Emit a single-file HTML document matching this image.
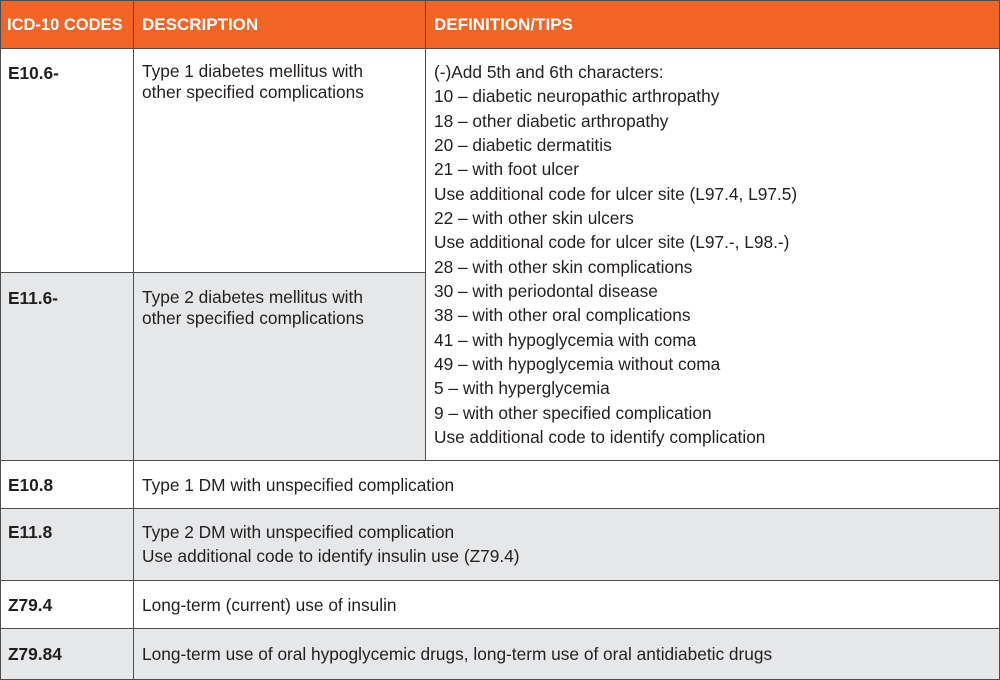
<!DOCTYPE html>
<html><head><meta charset="utf-8"><style>
body{margin:0;width:1000px;height:680px;overflow:hidden;background:#fff;font-family:"Liberation Sans",sans-serif;}
.c{position:absolute;box-sizing:border-box;border:1px solid #4d4d4d;}
.t{position:absolute;font-size:17.3px;color:#231f20;white-space:nowrap;line-height:24.33px;}
.h{position:absolute;font-size:17px;color:#fff;font-weight:bold;white-space:nowrap;top:15px;}
.b{font-weight:bold;}
.g{background:#e6e7e8;}
</style></head><body>
<div>
<div class="c" style="left:0;top:0;width:1000px;height:49px;background:#f26524;"></div>
<div class="c" style="left:133px;top:0;width:293px;height:49px;border-top:none;border-bottom:none;"></div>
<div class="h" style="left:7px;font-size:16.5px;top:16px">ICD-10 CODES</div>
<div class="h" style="left:142px">DESCRIPTION</div>
<div class="h" style="left:434px">DEFINITION/TIPS</div>

<div class="c" style="left:0;top:48px;width:134px;height:225px"></div>
<div class="c" style="left:133px;top:48px;width:293px;height:225px"></div>
<div class="c g" style="left:0;top:272px;width:134px;height:189px"></div>
<div class="c g" style="left:133px;top:272px;width:293px;height:189px"></div>
<div class="c" style="left:425px;top:48px;width:575px;height:413px"></div>
<div class="c" style="left:0;top:460px;width:134px;height:49px"></div>
<div class="c" style="left:133px;top:460px;width:867px;height:49px"></div>
<div class="c g" style="left:0;top:508px;width:134px;height:73px"></div>
<div class="c g" style="left:133px;top:508px;width:867px;height:73px"></div>
<div class="c" style="left:0;top:580px;width:134px;height:49px"></div>
<div class="c" style="left:133px;top:580px;width:867px;height:49px"></div>
<div class="c g" style="left:0;top:628px;width:134px;height:52px"></div>
<div class="c g" style="left:133px;top:628px;width:867px;height:52px"></div>

<div class="t b" style="left:8px;top:61px">E10.6-</div>
<div class="t" style="left:142px;top:61px;line-height:21px">Type 1 diabetes mellitus with<br>other specified complications</div>
<div class="t b" style="left:8px;top:286px">E11.6-</div>
<div class="t" style="left:142px;top:287px;line-height:21px">Type 2 diabetes mellitus with<br>other specified complications</div>
<div class="t" style="left:434px;top:60px">(-)Add 5th and 6th characters:<br>10 – diabetic neuropathic arthropathy<br>18 – other diabetic arthropathy<br>20 – diabetic dermatitis<br>21 – with foot ulcer<br>Use additional code for ulcer site (L97.4, L97.5)<br>22 – with other skin ulcers<br>Use additional code for ulcer site (L97.-, L98.-)<br>28 – with other skin complications<br>30 – with periodontal disease<br>38 – with other oral complications<br>41 – with hypoglycemia with coma<br>49 – with hypoglycemia without coma<br>5 – with hyperglycemia<br>9 – with other specified complication<br>Use additional code to identify complication</div>
<div class="t b" style="left:8px;top:473px">E10.8</div>
<div class="t" style="left:142px;top:473px">Type 1 DM with unspecified complication</div>
<div class="t b" style="left:8px;top:520px">E11.8</div>
<div class="t" style="left:142px;top:520px">Type 2 DM with unspecified complication<br>Use additional code to identify insulin use (Z79.4)</div>
<div class="t b" style="left:8px;top:593px">Z79.4</div>
<div class="t" style="left:142px;top:593px">Long-term (current) use of insulin</div>
<div class="t b" style="left:8px;top:642px">Z79.84</div>
<div class="t" style="left:142px;top:642px">Long-term use of oral hypoglycemic drugs, long-term use of oral antidiabetic drugs</div>
</div>
</body></html>
